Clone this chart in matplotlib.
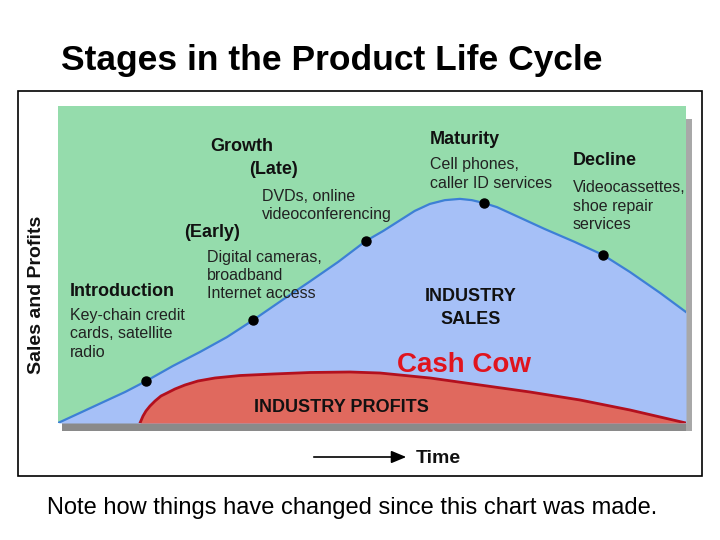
import matplotlib
matplotlib.use("Agg")
import matplotlib.pyplot as plt
import matplotlib.font_manager as fm
from matplotlib.patches import Rectangle, FancyArrowPatch

# ---------------- data ----------------
sales_x = [0, 3.5, 7.2, 10.7, 14.0, 18.3, 22.6, 26.9, 31.1, 35.5, 40.0, 44.6, 49.0,
           51.8, 54.5, 56.8, 59.2, 61.6, 64.0, 65.9, 67.8, 69.9, 72.0, 77.5, 82.3,
           86.8, 91.1, 95.9, 100]
sales_y = [0, 3.2, 6.6, 9.8, 13.2, 18.0, 22.4, 27.1, 32.5, 38.5, 44.5, 50.8, 57.4,
           60.6, 64.0, 66.9, 69.1, 70.3, 70.7, 70.3, 69.4, 68.1, 66.2, 61.2, 57.1,
           53.0, 47.6, 41.0, 35.0]

profit_x = [13.06, 13.54, 14.01, 14.65, 15.45, 16.40, 17.36, 18.63, 20.22, 22.29,
            25.0, 28.98, 34.24, 40.13, 46.5, 51.27, 59.24, 67.2, 75.16, 83.12, 91.08, 100]
profit_y = [0, 2.21, 3.79, 5.36, 6.94, 8.52, 9.46, 10.73, 11.99, 13.25,
            14.2, 14.98, 15.46, 15.93, 16.09, 15.77, 14.2, 11.99, 9.78, 7.26, 4.1, 0]

stage_x = [14.0, 31.1, 49.0, 67.8, 86.8]
stage_y = [13.2, 32.5, 57.4, 69.4, 53.0]

title = "Stages in the Product Life Cycle"
note = "Note how things have changed since this chart was made."
y_label = "Sales and Profits"
x_label = "Time"

# ---------------- fonts ----------------
names = {f.name for f in fm.fontManager.ttflist}
has_narrow = "Liberation Sans Narrow" in names
BOLD_FAM = ["Liberation Sans Narrow", "DejaVu Sans"] if has_narrow else ["Liberation Sans", "DejaVu Sans"]
BOLD_SIZE = 15.5 if has_narrow else 13
REG_FAM = ["Liberation Sans", "DejaVu Sans"]
REG_SIZE = 11.5

W, H = 720, 540
fig = plt.figure(figsize=(7.2, 5.4), dpi=100)
fig.patch.set_facecolor("white")


def P(x, y):
    return (x / W, 1 - y / H)


# frame
fig.add_artist(Rectangle(P(18, 476), (702 - 18) / W, (476 - 91) / H, transform=fig.transFigure,
                         fill=False, edgecolor="black", linewidth=1.2, zorder=0))
# shadows
fig.add_artist(Rectangle(P(62, 431), (692 - 62) / W, 8 / H, transform=fig.transFigure,
                         facecolor="#8a8a8a", edgecolor="none", zorder=0))
fig.add_artist(Rectangle(P(686, 431), 6 / W, (431 - 119) / H, transform=fig.transFigure,
                         facecolor="#a8a8a8", edgecolor="none", zorder=0))

# plot area
L, T, R, B = 58, 106, 686, 423
ax = fig.add_axes([L / W, 1 - B / H, (R - L) / W, (B - T) / H])
ax.set_facecolor("#95dcac")
ax.set_xlim(0, 100)
ax.set_ylim(0, 100)
for s in ax.spines.values():
    s.set_visible(False)
ax.set_xticks([])
ax.set_yticks([])

ax.fill_between(sales_x, 0, sales_y, color="#a6c0f7", linewidth=0, zorder=1)
ax.plot(sales_x, sales_y, color="#3d7fd6", linewidth=1.6, zorder=3,
        solid_joinstyle="round")
ax.fill_between(profit_x, 0, profit_y, color="#e0695e", linewidth=0, zorder=2)
ax.plot(profit_x, profit_y, color="#b3101e", linewidth=2.0, zorder=3,
        solid_joinstyle="round")
ax.plot(stage_x, stage_y, "o", color="black", markersize=6.5, zorder=4)


def bold(x, y, s, ha="left", size=None):
    fig.text(*P(x, y), s, ha=ha, va="baseline", family=BOLD_FAM, fontweight="bold",
             fontsize=size or BOLD_SIZE, color="#111111")


def reg(x, y, s):
    fig.text(*P(x, y), s, ha="left", va="baseline", family=REG_FAM,
             fontsize=REG_SIZE, color="#222222")


bold(210, 151, "Growth")
bold(249, 174, "(Late)")
reg(262, 201, "DVDs, online")
reg(262, 219, "videoconferencing")
bold(184, 237, "(Early)")
reg(207, 262, "Digital cameras,")
reg(207, 280, "broadband")
reg(207, 298, "Internet access")
bold(70, 296, "Introduction")
reg(70, 320, "Key-chain credit")
reg(70, 338, "cards, satellite")
reg(70, 357, "radio")
bold(430, 144, "Maturity")
reg(430, 169, "Cell phones,")
reg(430, 188, "caller ID services")
bold(573, 165, "Decline")
reg(573, 192, "Videocassettes,")
reg(573, 211, "shoe repair")
reg(573, 229, "services")
bold(471, 301, "INDUSTRY", ha="center")
bold(471, 324, "SALES", ha="center")
bold(341, 412, "INDUSTRY PROFITS", ha="center")

fig.text(*P(397, 372), "Cash Cow", ha="left", va="baseline", family=["Liberation Sans", "DejaVu Sans"],
         fontweight="bold", fontsize=20, color="#e0141e")

# time axis label with arrow
fig.add_artist(FancyArrowPatch(P(311, 457), P(409, 457), transform=fig.transFigure,
                               arrowstyle="-|>,head_length=6,head_width=2.5", color="black",
                               linewidth=1.2, mutation_scale=1.5))
bold(416, 463, x_label, size=BOLD_SIZE + 1)

fig.text(*P(36.5, 295), y_label, rotation=90, ha="center", va="center",
         family=["Liberation Sans", "DejaVu Sans"], fontweight="bold", fontsize=14, color="#111111")

fig.text(*P(61, 70), title, ha="left", va="baseline", family=["Liberation Sans", "DejaVu Sans"],
         fontweight="bold", fontsize=25.5, color="black")
fig.text(*P(47, 514), note, ha="left", va="baseline", family=["Liberation Sans", "DejaVu Sans"],
         fontsize=17, color="black")

fig.savefig("out.png", dpi=100)
